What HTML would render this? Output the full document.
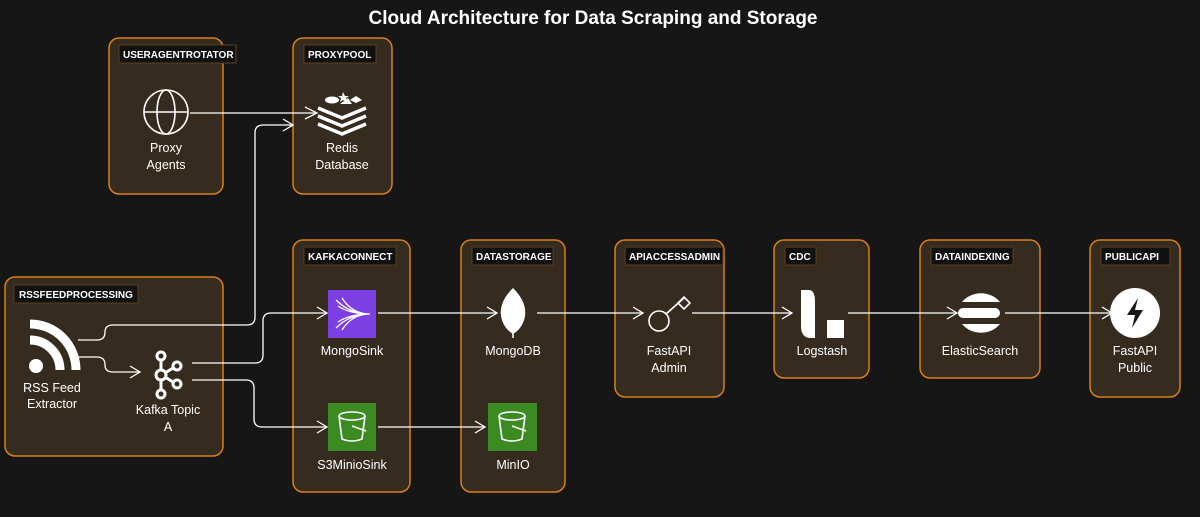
<!DOCTYPE html>
<html><head><meta charset="utf-8"><style>
body{margin:0;background:#161616;width:1200px;height:512px;overflow:hidden;font-family:"Liberation Sans",sans-serif}
</style></head><body>
<svg width="1200" height="512" viewBox="0 0 1200 512" xmlns="http://www.w3.org/2000/svg" font-family="Liberation Sans, sans-serif">
<rect width="1200" height="512" fill="#161616"/>
<text x="593" y="24" fill="#fff" font-size="19" font-weight="bold" text-anchor="middle">Cloud Architecture for Data Scraping and Storage</text>
<g fill="#352c1f" stroke="#d97f1c" stroke-width="1.5">
<rect x="109" y="38" width="114" height="156" rx="10"/>
<rect x="293" y="38" width="99" height="156" rx="10"/>
<rect x="5" y="277" width="218" height="179" rx="10"/>
<rect x="293" y="240" width="117" height="252" rx="10"/>
<rect x="461" y="240" width="104" height="252" rx="10"/>
<rect x="615" y="240" width="109" height="157" rx="10"/>
<rect x="774" y="240" width="95" height="138" rx="10"/>
<rect x="920" y="240" width="120" height="138" rx="10"/>
<rect x="1090" y="240" width="90" height="157" rx="10"/>
</g>
<g fill="#111" stroke="#5a4020" stroke-width="1">
<rect x="119" y="45" width="117" height="18"/>
<rect x="304" y="45" width="72" height="18"/>
<rect x="14" y="285" width="124" height="18"/>
<rect x="304" y="247" width="92" height="18"/>
<rect x="472" y="247" width="81" height="18"/>
<rect x="625" y="247" width="98" height="18"/>
<rect x="785" y="247" width="31" height="18"/>
<rect x="931" y="247" width="82" height="18"/>
<rect x="1101" y="247" width="69" height="18"/>
</g>
<g fill="#fff" font-size="10" font-weight="bold">
<text x="123" y="58">USERAGENTROTATOR</text>
<text x="308" y="58">PROXYPOOL</text>
<text x="19" y="298">RSSFEEDPROCESSING</text>
<text x="308" y="260">KAFKACONNECT</text>
<text x="476" y="260">DATASTORAGE</text>
<text x="629" y="260">APIACCESSADMIN</text>
<text x="789" y="260">CDC</text>
<text x="935" y="260">DATAINDEXING</text>
<text x="1105" y="260">PUBLICAPI</text>
</g>
<g fill="#fff" font-size="12.5" text-anchor="middle">
<text x="166" y="152">Proxy</text><text x="166" y="169">Agents</text>
<text x="342" y="152">Redis</text><text x="342" y="169">Database</text>
<text x="52" y="392">RSS Feed</text><text x="52" y="408">Extractor</text>
<text x="168" y="414">Kafka Topic</text><text x="168" y="431">A</text>
<text x="352" y="355">MongoSink</text>
<text x="352" y="469">S3MinioSink</text>
<text x="513" y="355">MongoDB</text>
<text x="513" y="469">MinIO</text>
<text x="669" y="355">FastAPI</text><text x="669" y="372">Admin</text>
<text x="822" y="355">Logstash</text>
<text x="980" y="355">ElasticSearch</text>
<text x="1135" y="355">FastAPI</text><text x="1135" y="372">Public</text>
</g>
<g fill="none" stroke="#fff" stroke-width="1.3">
<path d="M190 113H317"/><path d="M305 107l12 6-12 6"/>
<path d="M78 340H97q8 0 8-8q0-7 8-7H247q8 0 8-8V133q0-8 8-8H293"/><path d="M283 119l10 6-10 6"/>
<path d="M78 357H97q8 0 8 8q0 7 8 7H140"/><path d="M130 366l10 6-10 6"/>
<path d="M192 363H255q8 0 8-8V321q0-8 8-8H327"/><path d="M317 307l10 6-10 6"/>
<path d="M192 380H246q8 0 8 8V419q0 8 8 8H327"/><path d="M317 421l10 6-10 6"/>
<path d="M378 313H497"/><path d="M487 307l10 6-10 6"/>
<path d="M378 427H485"/><path d="M475 421l10 6-10 6"/>
<path d="M537 313H643"/><path d="M633 307l10 6-10 6"/>
<path d="M692 313H792"/><path d="M782 307l10 6-10 6"/>
<path d="M848 313H957"/><path d="M947 307l10 6-10 6"/>
<path d="M1005 313H1112"/><path d="M1102 307l10 6-10 6"/>
</g>
<g fill="none" stroke="#fff" stroke-width="1.6">
<circle cx="166" cy="112" r="22"/><ellipse cx="166" cy="112" rx="9" ry="22"/><path d="M144 112H188"/>
</g>
<g fill="none" stroke="#fff" stroke-width="3.5">
<path d="M318 108l24 10 24-10"/><path d="M318 116l24 10 24-10"/><path d="M318 124l24 10 24-10"/>
</g>
<g fill="#fff"><ellipse cx="332" cy="100" rx="7" ry="3.5"/><path d="M340 104l8-6 4 6z"/><path d="M350 100l6-4 6 4-6 3z"/><path d="M343 92l2 4 4 0-3 2 1 4-4-2-3 2 1-4-3-2 4 0z"/></g>
<g fill="#fff"><circle cx="36" cy="366" r="7"/></g>
<g fill="none" stroke="#fff" stroke-width="9"><path d="M30 340a30 30 0 0 1 30 30"/><path d="M30 324a46 46 0 0 1 46 46"/></g>
<g fill="none" stroke="#fff" stroke-width="3">
<circle cx="161" cy="356" r="4"/><circle cx="161" cy="375" r="5"/><circle cx="161" cy="394" r="4"/><circle cx="177" cy="366" r="4"/><circle cx="177" cy="384" r="4"/>
<path d="M161 360V370M161 380V390M165 373l8-5M165 377l8 5"/>
</g>
<rect x="328" y="290" width="48" height="48" fill="#7b3fe4"/>
<g fill="none" stroke="#fff" stroke-width="1.3"><path d="M336 300q14 14 34 14M338 306q12 8 32 8M338 322q12-8 32-8M336 328q14-14 34-14M342 298q10 16 28 16M342 330q10-16 28-16"/></g>
<rect x="328" y="403" width="48" height="48" fill="#3b8a22"/>
<rect x="488" y="403" width="49" height="48" fill="#3b8a22"/>
<g fill="none" stroke="#fff" stroke-width="1.6">
<ellipse cx="352" cy="416" rx="13" ry="4"/><path d="M339 416l3 23q10 4 20 0l3-23"/><path d="M352 426l14 5"/>
<ellipse cx="512" cy="416" rx="13" ry="4"/><path d="M499 416l3 23q10 4 20 0l3-23"/><path d="M512 426l14 5"/>
</g>
<path d="M513 288q-14 14-12 28q2 12 12 18q10-6 12-18q2-14-12-28z" fill="#fff"/><path d="M513 330v8" stroke="#fff" stroke-width="1.5"/>
<g fill="none" stroke="#fff" stroke-width="1.6"><circle cx="659" cy="321" r="10"/><path d="M666 314l18-16"/><path d="M678 303l6-6 6 6-6 6z"/></g>
<path d="M801 290h8q6 0 6 12v36h-4q-10 0-10-12z" fill="#fff"/><rect x="827" y="320" width="17" height="18" fill="#fff"/>
<g fill="#fff"><path d="M962 302a25 25 0 0 1 38 0z"/><rect x="958" y="308" width="42" height="10" rx="5"/><path d="M962 324a25 25 0 0 0 38 0z"/></g>
<circle cx="1135" cy="313" r="25" fill="#fff"/><path d="M1138 298l-11 17h8l-3 13 11-18h-8z" fill="#161616"/>
</svg>
</body></html>
